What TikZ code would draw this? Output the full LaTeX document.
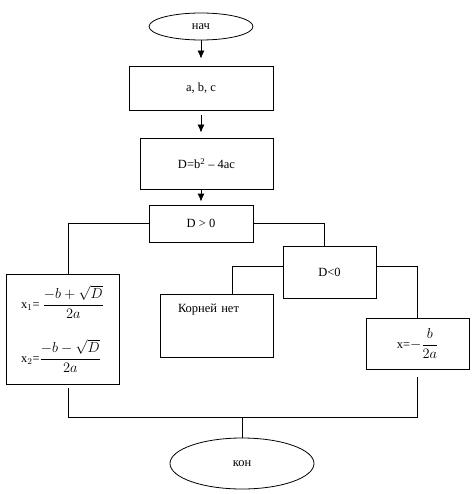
\documentclass[tikz,border=0pt]{standalone}
\usepackage{fontspec}
\setmainfont{Liberation Serif}
\usepackage{amsmath}
\usetikzlibrary{arrows.meta,shapes.geometric}

\newcommand{\bigmath}{\fontsize{15}{17}\selectfont}

\begin{document}
\begin{tikzpicture}[x=1pt,y=-1pt,
      line width=0.8pt,
      block/.style={rectangle,draw,inner sep=2pt,font=\fontsize{12.5}{14}\selectfont},
      term/.style={ellipse,draw,inner sep=0pt,font=\fontsize{12.5}{14}\selectfont},
      flow/.style={-{Latex[length=8pt,width=7pt]}}]
    \useasboundingbox (0,0) rectangle (474,494);
    \node[term,minimum width=104,minimum height=27] (nach) at (201,26.5) {нач};
    \node[block,minimum width=144,minimum height=44] (abc) at (201,88) {a, b, c};
    \node[block,minimum width=133,minimum height=51] (disc) at (206.5,163.5) {D=b\textsuperscript{2} -- 4ac};
    \node[block,minimum width=104,minimum height=37] (pos) at (201,223.5) {D > 0};
    \node[block,minimum width=93,minimum height=52] (neg) at (329.5,272) {D<0};
    \node[block,minimum width=113,minimum height=110,align=left] (roots) at (62.5,329)
      {x$_1$= {\bigmath$\dfrac{-b+\sqrt{D}}{2a}$}\\[20pt] x$_2$={\bigmath$\dfrac{-b-\sqrt{D}}{2a}$}};
    \node[block,minimum width=113,minimum height=63,text width=77,align=left] (none) at (216.5,325.5)
      {Корней нет\\[20pt]~};
    \node[block,minimum width=103,minimum height=51] (xone) at (417.5,343.5) {x=\bigmath$-\dfrac{b}{2a}$};
    \node[term,minimum width=144,minimum height=51] (kon) at (242,463.5) {кон};
    \coordinate (jl) at (68,417);
    \coordinate (jr) at (417.5,417);

    \draw[flow,shorten >=7pt] (nach) -- (abc);
    \draw[flow,shorten <=5pt,shorten >=5pt] (abc.south) -- (abc.south |- disc.north);
    \draw[flow,shorten >=3pt] (disc.south -| pos) -- (pos);
    \draw (pos.west) -| (roots.north -| jl);
    \draw (pos.east) -| ([xshift=-5.5pt]neg.north);
    \draw ([yshift=6pt]neg.west) -| ([xshift=15.5pt]none.north);
    \draw ([yshift=6pt]neg.east) -| (xone.north);
    \draw[shorten <=4pt,shorten >=8pt] (roots.south -| jl) -- (jl) -- (jr) -- (xone.south);
    \draw (jl -| kon) -- (kon);
  \end{tikzpicture}
\end{document}
